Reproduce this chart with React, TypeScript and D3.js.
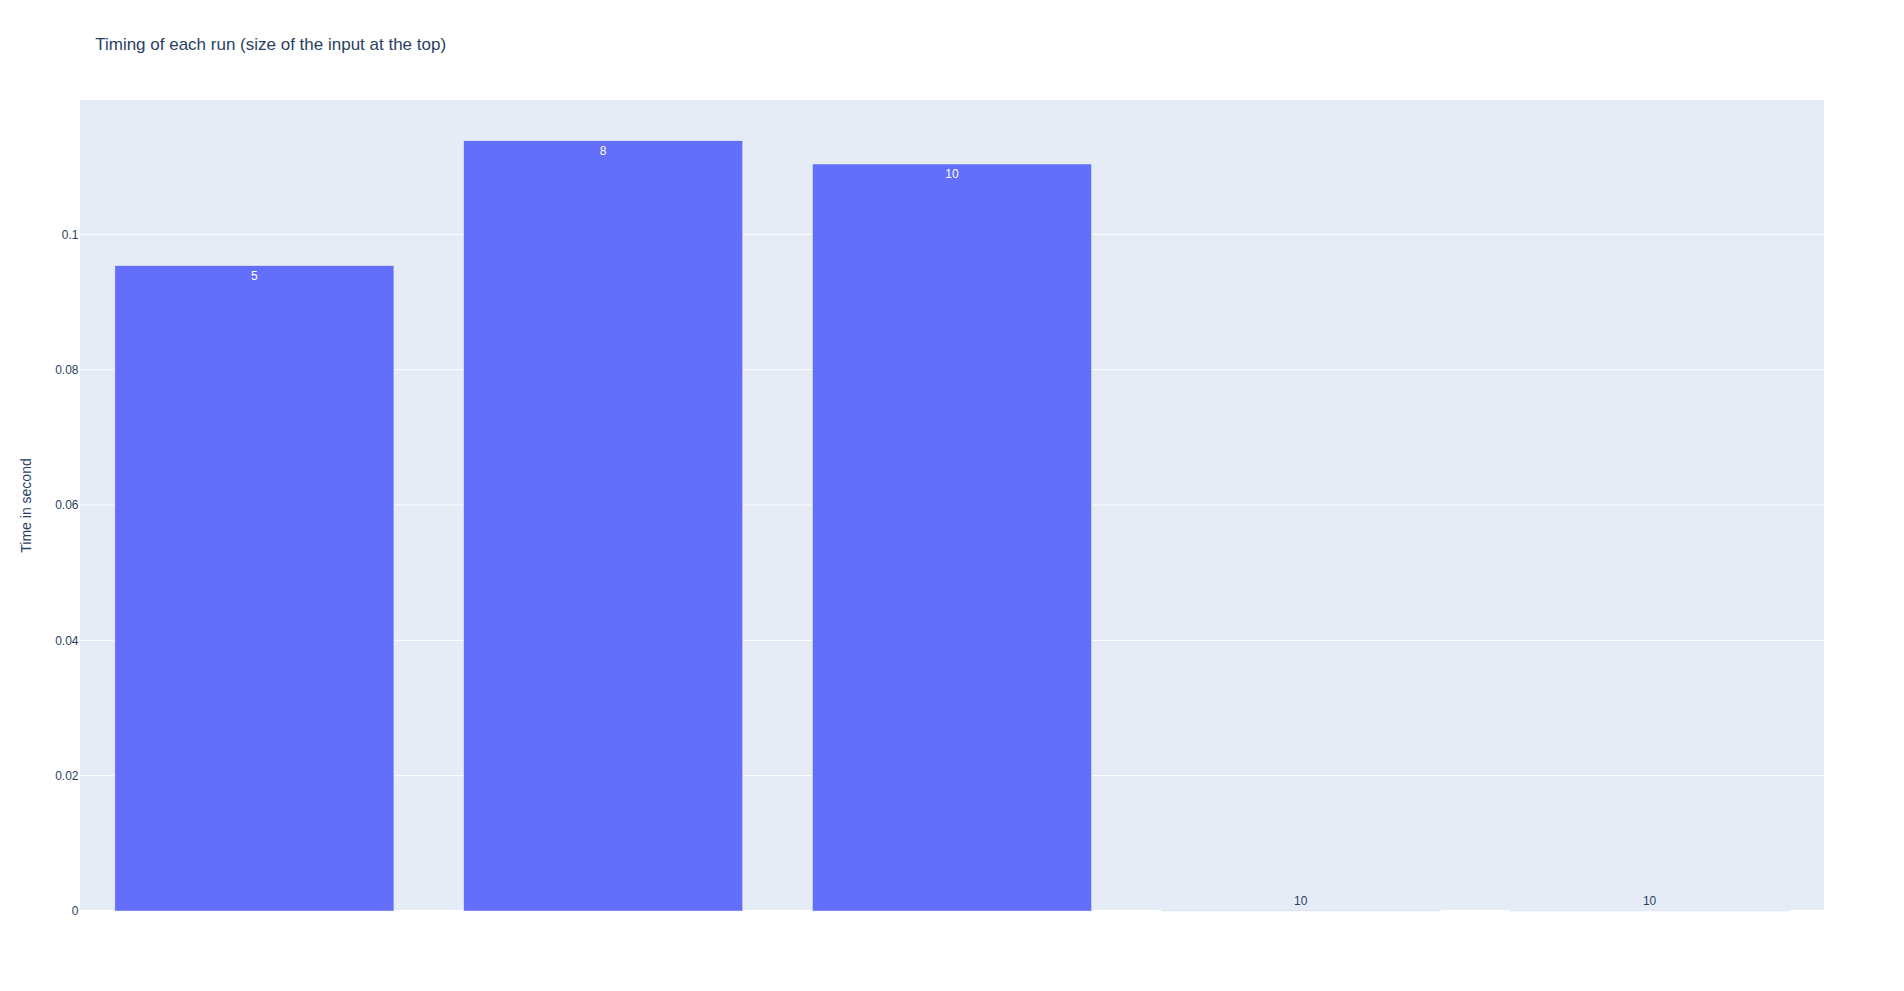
import * as d3 from 'd3';

// Each run, the size of its input (printed on the bar) and its time in seconds
const runs = ['run 1', 'run 2', 'run 3', 'run 4', 'run 5'];
const inputSizes = [5, 8, 10, 10, 10];
const timings = [0.09536, 0.11383, 0.11039, 0.00005, 0.00004];
const yTicks = [0, 0.02, 0.04, 0.06, 0.08, 0.1];

const width = 1904;
const height = 991;
const marginTop = 100;
const marginRight = 80;
const marginBottom = 80;
const marginLeft = 80;

const font = '"Liberation Sans", Arial, sans-serif';
const textColor = '#2a3f5f';
const barColor = '#636efa';

export default function App() {
    const x = d3.scaleBand<string>()
        .domain(runs)
        .range([marginLeft, width - marginRight])
        .paddingInner(0.2)
        .paddingOuter(0.1);

    // plotly-like autorange: 5% headroom over the tallest bar
    const yMax = (d3.max(timings) || 0) * 1.0529;
    const y = d3.scaleLinear()
        .domain([0, yMax])
        .range([height - marginBottom, marginTop]);

    const plotW = width - marginLeft - marginRight;
    const plotH = height - marginTop - marginBottom;

    return (
        <div style={{ position: 'absolute', top: 0, left: 0 }}>
            <svg width={width} height={height} style={{ display: 'block', background: '#fff' }} fontFamily={font}>
                <rect x={marginLeft} y={marginTop} width={plotW} height={plotH} fill="#E5ECF6" />

                {/* grid */}
                <g>
                    {yTicks.map((t) => (
                        <line key={t} x1={marginLeft} x2={width - marginRight} y1={y(t)} y2={y(t)} stroke="#fff" strokeWidth={t === 0 ? 2 : 1} />
                    ))}
                </g>

                {/* bars */}
                <g>
                    {runs.map((r, i) => (
                        <rect
                            key={r}
                            x={x(r)}
                            y={y(timings[i])}
                            width={x.bandwidth()}
                            height={Math.max(0, y(0) - y(timings[i]))}
                            fill={barColor}
                            stroke="#E5ECF6"
                            strokeWidth={0.5}
                        />
                    ))}
                </g>

                {/* bar labels: inside when the bar is tall enough, above otherwise */}
                <g fontSize={12} textAnchor="middle">
                    {runs.map((r, i) => {
                        const top = y(timings[i]);
                        const inside = y(0) - top > 20;
                        return (
                            <text
                                key={r}
                                x={(x(r) || 0) + x.bandwidth() / 2}
                                y={inside ? top + 13.8 : top - 5.5}
                                fill={inside ? '#fff' : textColor}
                            >
                                {inputSizes[i]}
                            </text>
                        );
                    })}
                </g>

                {/* y tick labels */}
                <g fontSize={12} textAnchor="end" fill={textColor}>
                    {yTicks.map((t) => (
                        <text key={t} x={marginLeft - 1.5} y={y(t)} dy="0.35em">{t === 0 ? '0' : String(t)}</text>
                    ))}
                </g>

                <text
                    transform={`translate(31, ${marginTop + plotH / 2}) rotate(-90)`}
                    textAnchor="middle"
                    fontSize={14}
                    fill={textColor}
                >
                    Time in second
                </text>

                <text x={width * 0.05} y={50} fontSize={17} fill={textColor}>
                    Timing of each run (size of the input at the top)
                </text>
            </svg>
        </div>
    );
}
